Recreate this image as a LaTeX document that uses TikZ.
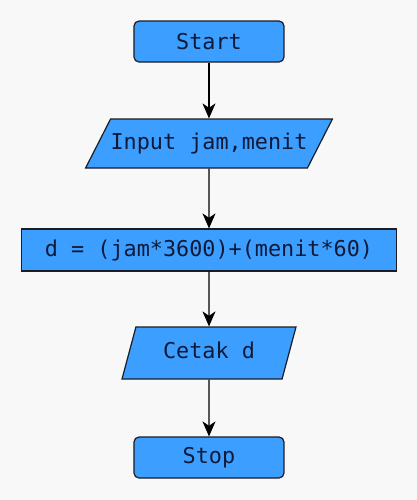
\documentclass[tikz,border=0pt]{standalone}
\usepackage{xcolor}
\usepackage{fontspec}
\usepackage{tikz}
\usetikzlibrary{shapes.geometric, arrows.meta}
\setmonofont{DejaVu Sans Mono}

\definecolor{boxblue}{RGB}{60,158,255}
\definecolor{inkblue}{RGB}{16,26,56}
\definecolor{edgegray}{RGB}{28,28,36}
\definecolor{paper}{RGB}{248,248,248}

\tikzset{
    flowbox/.style={draw=edgegray, line width=0.6pt, fill=boxblue, text=inkblue,
        font=\fontsize{10.9}{13}\selectfont\ttfamily, inner sep=0pt},
    termbox/.style={flowbox, rectangle, rounded corners=2.5pt, minimum width=75pt, minimum height=20.5pt},
    procbox/.style={flowbox, rectangle, minimum width=187.5pt, minimum height=21pt},
    iobox/.style={flowbox, trapezium, trapezium left angle=#1, trapezium right angle=180-#1,
        trapezium stretches body=true, text height=8pt, text depth=2.5pt},
    flowarrow/.style={-{Stealth[length=7.5pt, width=6.5pt, inset=2.2pt]}, line width=0.55pt, draw=black}
}

\begin{document}
\begin{tikzpicture}
    \fill[paper] (0pt, 0pt) rectangle (208.5pt, -250pt);
    \useasboundingbox (0pt, 0pt) rectangle (208.5pt, -250pt);

    \node[termbox] at (104.5pt, -20.75pt) (start) {Start};
    \node[iobox=63, inner ysep=7pt, minimum width=122.5pt] at (104.5pt, -71.75pt) (input) {Input jam,menit};
    \node[procbox] at (104.5pt, -125pt) (calc) {d = (jam*3600)+(menit*60)};
    \node[iobox=75, inner ysep=7.75pt, minimum width=87pt] at (104.5pt, -176.5pt) (output) {Cetak d};
    \node[termbox] at (104.5pt, -228.75pt) (stop) {Stop};

    \draw[flowarrow] (start) edge (input);
    \draw[flowarrow] (input) edge (calc);
    \draw[flowarrow] (calc) edge (output);
    \draw[flowarrow] (output) edge (stop);
\end{tikzpicture}
\end{document}
